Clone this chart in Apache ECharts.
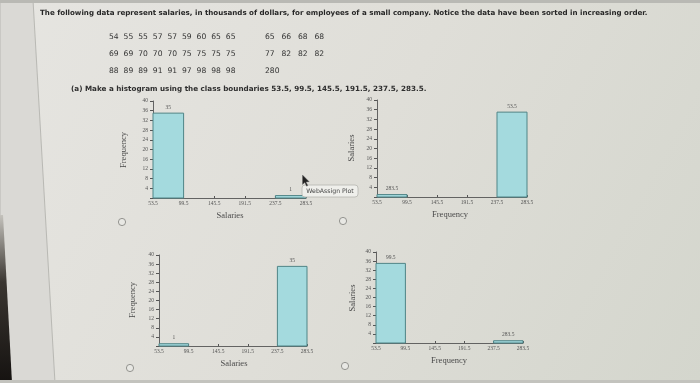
<!DOCTYPE html>
<html><head><meta charset="utf-8">
<script src="https://cdn.jsdelivr.net/npm/echarts@6/dist/echarts.min.js"></script>
<style>html,body{margin:0;padding:0;background:#dcdcd6}#c{width:700px;height:383px}</style>
</head><body><div id="c"></div>
<script>
// ---- data ----
const titleText = "The following data represent salaries, in thousands of dollars, for employees of a small company. Notice the data have been sorted in increasing order.";
const salaryRow1 = [54, 55, 55, 57, 57, 59, 60, 65, 65, 65, 66, 68, 68];
const salaryRow2 = [69, 69, 70, 70, 70, 75, 75, 75, 75, 77, 82, 82, 82];
const salaryRow3 = [88, 89, 89, 91, 91, 97, 98, 98, 98, 280];
const questionText = "(a) Make a histogram using the class boundaries 53.5, 99.5, 145.5, 191.5, 237.5, 283.5.";
const boundaries = [53.5, 99.5, 145.5, 191.5, 237.5, 283.5];
const yTicks = [0, 4, 8, 12, 16, 20, 24, 28, 32, 36, 40];
const countsA = [35, 0, 0, 0, 1];
const labelsA = ["35", "", "", "", "1"];
const countsB = [1, 0, 0, 0, 35];
const labelsB = ["283.5", "", "", "", "53.5"];
const countsC = [1, 0, 0, 0, 35];
const labelsC = ["1", "", "", "", "35"];
const countsD = [35, 0, 0, 0, 1];
const labelsD = ["99.5", "", "", "", "283.5"];
const axisNamesA = ["Salaries", "Frequency"];
const axisNamesB = ["Frequency", "Salaries"];
const axisNamesC = ["Salaries", "Frequency"];
const axisNamesD = ["Frequency", "Salaries"];

// ---- layout ----
const panels = [
  {counts: countsA, labels: labelsA, names: axisNamesA, grid: {left: 153, top: 101, width: 153, height: 97}, yName: [124, 150], xName: [230, 216]},
  {counts: countsB, labels: labelsB, names: axisNamesB, grid: {left: 377, top: 100, width: 150, height: 97}, yName: [352, 148], xName: [450, 215]},
  {counts: countsC, labels: labelsC, names: axisNamesC, grid: {left: 159, top: 255, width: 148, height: 91}, yName: [133, 300], xName: [234, 364]},
  {counts: countsD, labels: labelsD, names: axisNamesD, grid: {left: 376, top: 252, width: 147, height: 91}, yName: [353, 298], xName: [449, 361]}
];
const SERIF = "'Liberation Serif', 'DejaVu Serif', serif";
const SANS = "'DejaVu Sans', Verdana, sans-serif";

const chart = echarts.init(document.getElementById('c'), null, {renderer: 'canvas'});

const graphics = [];
// background
graphics.push({type: 'rect', z: -10, silent: true, shape: {x: 0, y: 0, width: 700, height: 383},
  style: {fill: new echarts.graphic.LinearGradient(0, 0, 1, 1, [
    {offset: 0, color: '#e6e5e1'}, {offset: 0.5, color: '#dfded8'}, {offset: 1, color: '#d4d6cd'}])}});
graphics.push({type: 'polygon', z: -9, silent: true, shape: {points: [[0, 0], [33, 0], [55, 383], [0, 383]]},
  style: {fill: '#dad9d5', stroke: '#aeaea9', lineWidth: 0.8}});
graphics.push({type: 'polygon', z: -8, silent: true, shape: {points: [[0, 215], [3, 215], [12, 383], [0, 383]]},
  style: {fill: new echarts.graphic.LinearGradient(0, 0, 0, 1, [{offset: 0, color: '#c4c2bc'}, {offset: 0.4, color: '#3a3631'}, {offset: 1, color: '#151210'}])}});
graphics.push({type: 'rect', z: -7, silent: true, shape: {x: 0, y: 0, width: 700, height: 3}, style: {fill: '#b9b9b4'}});
graphics.push({type: 'rect', z: -7, silent: true, shape: {x: 0, y: 380, width: 700, height: 3}, style: {fill: '#c3c3be'}});

// texts
graphics.push({type: 'text', style: {text: titleText, x: 40, y: 13, verticalAlign: 'middle', font: 'bold 7.1px ' + SANS, fill: '#262626'}});
[salaryRow1, salaryRow2, salaryRow3].forEach((row, r) => {
  row.forEach((v, i) => {
    const xPos = i < 9 ? 109 + i * 14.6 : 265 + (i - 9) * 16.5;
    graphics.push({type: 'text', style: {text: String(v), x: xPos, y: 37 + r * 17,
      verticalAlign: 'middle', font: '7.6px ' + SANS, fill: '#333'}});
  });
});
graphics.push({type: 'text', style: {text: questionText, x: 71, y: 89, verticalAlign: 'middle', font: 'bold 7.2px ' + SANS, fill: '#2e2e2e'}});

// axis names
panels.forEach(p => {
  graphics.push({type: 'text', x: p.yName[0], y: p.yName[1], rotation: Math.PI / 2,
    style: {text: p.names[1], x: 0, y: 0, align: 'center', verticalAlign: 'middle', font: '8.5px ' + SERIF, fill: '#4a4a4a'}});
  graphics.push({type: 'text', style: {text: p.names[0], x: p.xName[0], y: p.xName[1], align: 'center', verticalAlign: 'middle', font: '8.5px ' + SERIF, fill: '#4a4a4a'}});
});

// radio buttons
[[122, 222], [343, 221], [130, 368], [345, 366]].forEach(c => {
  graphics.push({type: 'circle', shape: {cx: c[0], cy: c[1], r: 3.6}, style: {fill: '#e8e8e4', stroke: '#8a8a86', lineWidth: 0.9}});
});

// tooltip + cursor
graphics.push({type: 'rect', z: 50, shape: {x: 302, y: 185, width: 56, height: 12, r: 3}, style: {fill: '#efefeb', stroke: '#b5b5b0', lineWidth: 0.8}});
graphics.push({type: 'text', z: 51, style: {text: 'WebAssign Plot', x: 330, y: 191, align: 'center', verticalAlign: 'middle', font: '6.2px ' + SANS, fill: '#444'}});
graphics.push({type: 'polygon', z: 52, shape: {points: [[302.5, 175], [302.5, 184.5], [304.8, 182.4], [306.6, 186.2], [307.8, 185.6], [306, 181.9], [309.2, 181.7]]},
  style: {fill: '#222', stroke: '#666', lineWidth: 0.4}});

const grids = [], xAxes = [], yAxes = [], series = [];
panels.forEach((p, k) => {
  grids.push(Object.assign({containLabel: false}, p.grid));
  xAxes.push({type: 'value', gridIndex: k, min: boundaries[0], max: boundaries[boundaries.length - 1],
    axisLine: {lineStyle: {color: '#555', width: 0.9}},
    axisTick: {show: true, inside: true, length: 2, customValues: boundaries, lineStyle: {color: '#555'}},
    axisLabel: {customValues: boundaries, formatter: v => String(v), fontFamily: SERIF, fontSize: 5.5, color: '#555', margin: 3},
    splitLine: {show: false}});
  yAxes.push({type: 'value', gridIndex: k, min: yTicks[0], max: yTicks[yTicks.length - 1], interval: yTicks[1] - yTicks[0],
    axisLine: {show: true, lineStyle: {color: '#555', width: 0.9}},
    axisTick: {show: true, length: 3, lineStyle: {color: '#555'}},
    axisLabel: {formatter: v => v === 0 ? '' : String(v), fontFamily: SERIF, fontSize: 5.5, color: '#555', margin: 5},
    splitLine: {show: false}});
  const data = p.counts.map((c, i) => [boundaries[i], boundaries[i + 1], c]).filter(d => d[2] > 0);
  const labs = p.labels.filter((l, i) => p.counts[i] > 0);
  series.push({type: 'custom', xAxisIndex: k, yAxisIndex: k, data: data, encode: {x: [0, 1], y: 2},
    renderItem: function (params, api) {
      const x0 = api.value(0), x1 = api.value(1), c = api.value(2);
      const p0 = api.coord([x0, c]), p1 = api.coord([x1, 0]);
      return {type: 'group', children: [
        {type: 'rect', shape: {x: p0[0], y: p0[1], width: p1[0] - p0[0], height: p1[1] - p0[1]},
          style: {fill: '#a4dade', stroke: '#4f8587', lineWidth: 1}},
        {type: 'text', style: {text: labs[params.dataIndex], x: (p0[0] + p1[0]) / 2, y: p0[1] - 3, align: 'center', verticalAlign: 'bottom',
          font: '5.5px ' + SERIF, fill: '#555'}}
      ]};
    }});
});

chart.setOption({animation: false, backgroundColor: 'transparent', graphic: graphics, grid: grids, xAxis: xAxes, yAxis: yAxes, series: series});
</script></body></html>
